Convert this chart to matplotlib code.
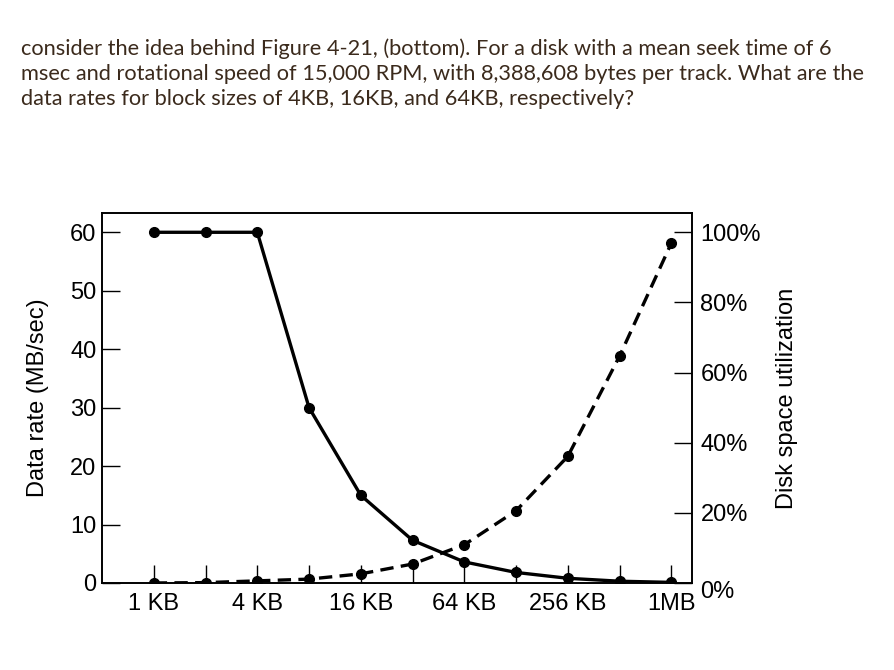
import numpy as np
import matplotlib.pyplot as plt
from matplotlib.transforms import ScaledTranslation

# Block sizes (KB) and readings from the figure
block_kb = [1, 2, 4, 8, 16, 32, 64, 128, 256, 512, 1024]
tick_labels = ['1 KB', '', '4 KB', '', '16 KB', '', '64 KB', '', '256 KB', '', '1MB']
data_rate = [60, 60, 60, 30, 15, 7.3, 3.6, 1.8, 0.8, 0.3, 0.1]
disk_util = [0.0, 0.1, 0.6, 1.1, 2.6, 5.4, 10.9, 20.6, 36.1, 64.7, 96.9]

question = ("consider the idea behind Figure 4-21, (bottom). For a disk with a mean seek time of 6\n"
            "msec and rotational speed of 15,000 RPM, with 8,388,608 bytes per track. What are the\n"
            "data rates for block sizes of 4KB, 16KB, and 64KB, respectively?")

plt.rcParams['font.family'] = ['Liberation Sans', 'DejaVu Sans']

fig = plt.figure(figsize=(8.94, 6.70), dpi=100)
fig.text(0.0235, 0.942, question, fontsize=15.7, family='Lato', color='#3b2a1c',
         va='top', ha='left', linespacing=1.3)

ax = fig.add_axes([0.1141, 0.1299, 0.6600, 0.5522])
x = np.arange(len(block_kb))

ax.plot(x, data_rate, '-', color='black', lw=2.4, marker='o', ms=7, zorder=3)
ax.set_xlim(-1.0, 10.4)
ax.set_ylim(0, 63.3)
ax.set_yticks([0, 10, 20, 30, 40, 50, 60])
ax.set_xticks(x)
ax.set_xticklabels(tick_labels)
ax.set_ylabel('Data rate (MB/sec)', fontsize=17, labelpad=15)
ax.tick_params(axis='both', direction='in', length=13, width=1, labelsize=17)
ax.tick_params(axis='x', pad=7)
ax.tick_params(axis='y', pad=4)
for s in ax.spines.values():
    s.set_linewidth(1.2)

ax2 = ax.twinx()
ax2.plot(x, disk_util, '--', color='black', lw=2.4, marker='o', ms=7,
         dashes=(4, 2.2), zorder=3)
ax2.set_ylim(0, 63.3 / 60 * 100)
ax2.set_yticks([0, 20, 40, 60, 80, 100])
ax2.set_yticklabels(['0%', '20%', '40%', '60%', '80%', '100%'])
ax2.set_ylabel('Disk space utilization', fontsize=17, labelpad=11)
ax2.tick_params(axis='y', direction='in', length=13, width=1, labelsize=17, pad=6)
# the 0% label sits a little below its tick in the original
zero_lbl = ax2.yaxis.get_major_ticks()[0].label2
zero_lbl.set_transform(zero_lbl.get_transform() + ScaledTranslation(0, -5 / 72, fig.dpi_scale_trans))
for s in ax2.spines.values():
    s.set_linewidth(1.2)

fig.savefig('out.png', dpi=100)
